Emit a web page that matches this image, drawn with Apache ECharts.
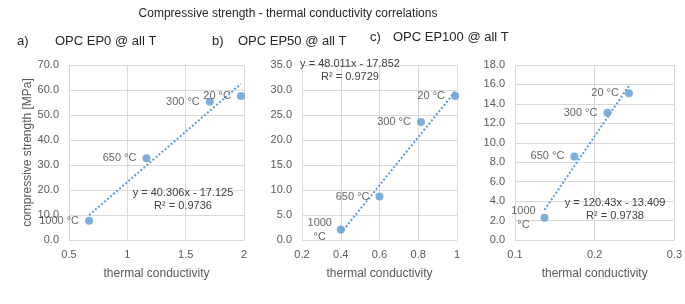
<!DOCTYPE html>
<html>
<head>
<meta charset="utf-8">
<script src="https://cdn.jsdelivr.net/npm/echarts@6/dist/echarts.min.js"></script>
<style>html,body{margin:0;padding:0;background:#fff}#c{width:685px;height:304px}</style>
</head>
<body>
<div id="c"></div>
<script>
// ---- data ----
const pointLabels = ['1000 °C', '650 °C', '300 °C', '20 °C'];
// a) OPC EP0
const tcA = [0.672, 1.164, 1.707, 1.974];
const csA = [7.7, 32.7, 55.3, 57.6];
const trendA = { slope: 40.306, intercept: -17.125, r2: '0.9736' };
// b) OPC EP50
const tcB = [0.400, 0.600, 0.814, 0.990];
const csB = [2.1, 8.7, 23.6, 28.8];
const trendB = { slope: 48.011, intercept: -17.852, r2: '0.9729' };
// c) OPC EP100
const tcC = [0.137, 0.1745, 0.216, 0.243];
const csC = [2.3, 8.6, 13.1, 15.1];
const trendC = { slope: 120.43, intercept: -13.409, r2: '0.9738' };

const mainTitle = 'Compressive strength - thermal conductivity correlations';
const panelTitles = ['OPC EP0 @ all T', 'OPC EP50 @ all T', 'OPC EP100 @ all T'];
const panelLetters = ['a)', 'b)', 'c)'];
const xAxisName = 'thermal conductivity';
const yAxisName = 'compressive strength [MPa]';

// ---- chart ----
const FONT = "'Liberation Sans', Arial, sans-serif";
const BLUE = '#5B9BD5';
const GRID = '#d9d9d9';
const TXT = '#595959';
const DARK = '#262626';

const panels = [
  { tc: tcA, cs: csA, tr: trendA, grid: { left: 69, top: 65, width: 175, height: 175 },
    x: [0.5, 2, 0.5], y: [0, 70, 10], eq: [183, 193], twoLine: false },
  { tc: tcB, cs: csB, tr: trendB, grid: { left: 302, top: 65, width: 155, height: 175 },
    x: [0.2, 1, 0.2], y: [0, 35, 5], eq: [350, 64], twoLine: true },
  { tc: tcC, cs: csC, tr: trendC, grid: { left: 515, top: 65, width: 161, height: 175 },
    x: [0.1, 0.3, 0.1], y: [0, 18, 2], eq: [615, 203], twoLine: true }
];

const fmtX = v => String(Number(v.toFixed(3)));
const fmtY = v => v.toFixed(1);

const grids = [], xAxes = [], yAxes = [], series = [], titles = [];

titles.push({ text: mainTitle, left: 288, top: 8, textAlign: 'center', padding: 0,
  textStyle: { fontFamily: FONT, fontSize: 12, fontWeight: 'normal', color: DARK } });
const letterX = [17, 212, 370];
const panelX = [55, 238, 393];
const panelY = [35, 35, 31];
panels.forEach((p, i) => {
  titles.push({ text: panelLetters[i], left: letterX[i], top: panelY[i], padding: 0,
    textStyle: { fontFamily: FONT, fontSize: 13, fontWeight: 'normal', color: DARK } });
  titles.push({ text: panelTitles[i], left: panelX[i], top: panelY[i], padding: 0,
    textStyle: { fontFamily: FONT, fontSize: 13, fontWeight: 'normal', color: DARK } });
  titles.push({ text: 'y = ' + p.tr.slope + 'x - ' + Math.abs(p.tr.intercept).toFixed(3),
    subtext: 'R² = ' + p.tr.r2, itemGap: 2,
    left: p.eq[0], top: p.eq[1] - 6, textAlign: 'center', padding: 0,
    textStyle: { fontFamily: FONT, fontSize: 11, fontWeight: 'normal', color: '#404040' },
    subtextStyle: { fontFamily: FONT, fontSize: 11, color: '#404040' } });

  grids.push(p.grid);
  xAxes.push({ type: 'value', gridIndex: i, min: p.x[0], max: p.x[1], interval: p.x[2],
    name: xAxisName, nameLocation: 'middle', nameGap: 28,
    nameTextStyle: { fontFamily: FONT, fontSize: 12, color: TXT },
    axisLine: { show: false }, axisTick: { show: false },
    axisLabel: { formatter: fmtX, fontFamily: FONT, fontSize: 11, color: TXT, margin: 9 },
    splitLine: { show: true, lineStyle: { color: GRID, width: 1 } } });
  yAxes.push({ type: 'value', gridIndex: i, min: p.y[0], max: p.y[1], interval: p.y[2],
    name: i === 0 ? yAxisName : '', nameLocation: 'middle', nameGap: 35,
    nameTextStyle: { fontFamily: FONT, fontSize: 12, color: TXT },
    axisLine: { show: false }, axisTick: { show: false },
    axisLabel: { formatter: fmtY, fontFamily: FONT, fontSize: 11, color: TXT, margin: 10 },
    splitLine: { show: true, lineStyle: { color: GRID, width: 1 } } });

  const pts = p.tc.map((x, k) => {
    const item = { value: [x, p.cs[k]], name: pointLabels[k] };
    if (k === 0 && p.twoLine) {
      item.label = { formatter: '1000\n°C', align: 'center', distance: 17, lineHeight: 14 };
    }
    return item;
  });
  series.push({ type: 'scatter', xAxisIndex: i, yAxisIndex: i, data: pts,
    symbolSize: 8, itemStyle: { color: BLUE }, z: 3,
    label: { show: true, position: 'left', distance: 6, formatter: '{b}',
      fontFamily: FONT, fontSize: 11, color: '#404040' } });

  const xmin = Math.min(...p.tc), xmax = Math.max(...p.tc);
  series.push({ type: 'line', xAxisIndex: i, yAxisIndex: i, showSymbol: false, symbol: 'none',
    data: [[xmin, p.tr.slope * xmin + p.tr.intercept], [xmax, p.tr.slope * xmax + p.tr.intercept]],
    lineStyle: { color: BLUE, width: 2, type: [2, 2] }, z: 2, silent: true });
});

const chart = echarts.init(document.getElementById('c'), null, { renderer: 'canvas' });
chart.setOption({ animation: false, backgroundColor: '#fff', title: titles,
  grid: grids, xAxis: xAxes, yAxis: yAxes, series: series });
</script>
</body>
</html>
